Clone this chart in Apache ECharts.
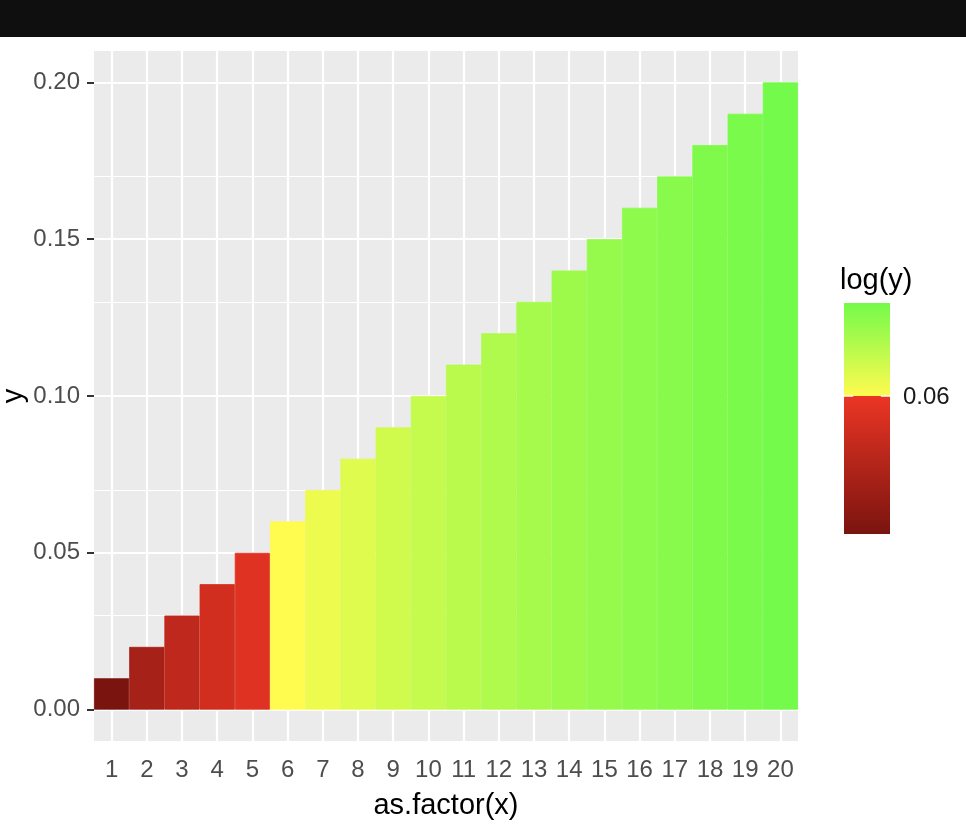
<!DOCTYPE html>
<html>
<head>
<meta charset="utf-8">
<script src="https://cdn.jsdelivr.net/npm/echarts@6/dist/echarts.min.js"></script>
<style>
html,body{margin:0;padding:0;background:#fff;}
#chart{width:966px;height:834px;}
</style>
</head>
<body>
<div id="chart"></div>
<script>
// ---- data ----
const categories = ['1','2','3','4','5','6','7','8','9','10','11','12','13','14','15','16','17','18','19','20'];
const yValues = [0.01,0.02,0.03,0.04,0.05,0.06,0.07,0.08,0.09,0.10,0.11,0.12,0.13,0.14,0.15,0.16,0.17,0.18,0.19,0.20];
const yTicks = [0, 0.05, 0.10, 0.15, 0.20];
const yMinorTicks = [0.025, 0.075, 0.125, 0.175];
const legendBreaks = [0.06];
const legendLabels = ['0.06'];
const lowColors = ['#7a140f', '#eb3525'];   // below the break
const highColors = ['#fffb4f', '#74fa4a'];  // from the break upwards

// ---- colour scale on log(y) ----
const lo = Math.log(Math.min.apply(null, yValues));
const hi = Math.log(Math.max.apply(null, yValues));
const brk = Math.log(legendBreaks[0]);
function hex2rgb(h){return [parseInt(h.substr(1,2),16),parseInt(h.substr(3,2),16),parseInt(h.substr(5,2),16)];}
function mix(a,b,t){const A=hex2rgb(a),B=hex2rgb(b);return 'rgb('+A.map((v,i)=>Math.round(v+(B[i]-v)*t)).join(',')+')';}
function fillFor(v){
  const l = Math.log(v);
  if (l < brk - 1e-9) return mix(lowColors[0], lowColors[1], (l - lo) / (brk - lo));
  return mix(highColors[0], highColors[1], (l - brk) / (hi - brk));
}
const barData = yValues.map(v => {
  const c = fillFor(v);
  return {value: v, itemStyle: {color: c, borderColor: c, borderWidth: 0.8}};
});

// ---- legend geometry ----
const cbX = 844, cbY = 303, cbW = 46, cbH = 231;
const brkY = Math.round(cbY + cbH * (hi - brk) / (hi - lo));

const chart = echarts.init(document.getElementById('chart'), null, {renderer:'canvas'});
const FONT = 'Liberation Sans, Arial, sans-serif';

chart.setOption({
  animation: false,
  backgroundColor: '#ffffff',
  grid: {left: 94, right: 168, top: 51, bottom: 93, show: true, backgroundColor: '#ebebeb', borderWidth: 0,
         containLabel: false, outerBoundsMode: 'none'},
  xAxis: {
    type: 'category',
    data: categories,
    boundaryGap: true,
    name: 'as.factor(x)',
    nameLocation: 'middle',
    nameGap: 50,
    nameMoveOverlap: false,
    nameTextStyle: {fontFamily: FONT, fontSize: 29, color: '#000'},
    axisLine: {show: false},
    axisTick: {show: true, alignWithLabel: true, length: 7, lineStyle: {color: '#333', width: 2}},
    axisLabel: {fontFamily: FONT, fontSize: 24, color: '#4d4d4d', margin: 17, interval: 0},
    splitLine: {show: false}
  },
  yAxis: {
    type: 'value',
    min: -0.01,
    max: 0.21,
    name: 'y',
    nameLocation: 'middle',
    nameRotate: 90,
    nameGap: 66,
    nameMoveOverlap: false,
    nameTextStyle: {fontFamily: FONT, fontSize: 29, color: '#000'},
    axisLine: {show: false},
    axisTick: {show: true, length: 7, lineStyle: {color: '#333', width: 2}, customValues: yTicks},
    axisLabel: {fontFamily: FONT, fontSize: 24, color: '#4d4d4d', margin: 14, customValues: yTicks,
      formatter: v => v.toFixed(2)},
    splitLine: {show: false},
    minorSplitLine: {show: false}
  },
  series: [{
    type: 'bar',
    data: barData,
    barCategoryGap: '0%',
    barGap: '0%',
    z: 2,
    emphasis: {disabled: true},
    markLine: {
      silent: true,
      z: 1,
      symbol: ['none','none'],
      label: {show: false},
      emphasis: {disabled: true},
      animation: false,
      data: [].concat(
        categories.map((c,i) => ({xAxis: i, lineStyle: {color: '#fff', width: 2.2, type: 'solid'}})),
        yTicks.map(v => ({yAxis: v, lineStyle: {color: '#fff', width: 2.2, type: 'solid'}})),
        yMinorTicks.map(v => ({yAxis: v, lineStyle: {color: '#fff', width: 1.1, type: 'solid'}}))
      )
    }
  }],
  graphic: [
    {type: 'rect', left: 0, top: 0, shape: {x:0, y:0, width: 966, height: 37}, style: {fill: '#0f0f0f'}, silent: true, z: 10},
    {type: 'rect', shape: {x: cbX, y: cbY, width: cbW, height: brkY - cbY},
      style: {fill: new echarts.graphic.LinearGradient(0,0,0,1,[{offset:0,color:highColors[1]},{offset:1,color:highColors[0]}])}, silent: true},
    {type: 'rect', shape: {x: cbX, y: brkY, width: cbW, height: cbY + cbH - brkY},
      style: {fill: new echarts.graphic.LinearGradient(0,0,0,1,[{offset:0,color:lowColors[1]},{offset:1,color:lowColors[0]}])}, silent: true},
    {type: 'line', shape: {x1: cbX, y1: brkY, x2: cbX + cbW/5, y2: brkY}, style: {stroke: '#fff', lineWidth: 1.5}, silent: true, z: 5},
    {type: 'line', shape: {x1: cbX + cbW*4/5, y1: brkY, x2: cbX + cbW, y2: brkY}, style: {stroke: '#fff', lineWidth: 1.5}, silent: true, z: 5},
    {type: 'text', x: cbX + cbW + 13, y: brkY + 1, style: {text: legendLabels[0], fontFamily: FONT, fontSize: 24, fill: '#1a1a1a', verticalAlign: 'middle', textAlign: 'left'}, silent: true},
    {type: 'text', x: 840, y: 281, style: {text: 'log(y)', fontFamily: FONT, fontSize: 29, fill: '#000', verticalAlign: 'middle', textAlign: 'left'}, silent: true}
  ]
});
</script>
</body>
</html>
